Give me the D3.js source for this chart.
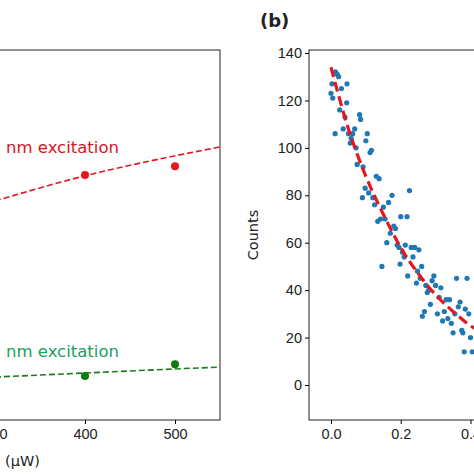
<!DOCTYPE html>
<html><head><meta charset="utf-8">
<script src="https://cdn.jsdelivr.net/npm/d3@7"></script>
<style>body{margin:0;background:#fff}svg{font-family:"DejaVu Sans",sans-serif}</style>
</head><body><svg id="c" width="474" height="474"></svg>
<script>
// --- panel (a) data (partially visible) ---
const powerTicks = [300, 400, 500];
const redPts = [[400, 66.2], [500, 68.6]];
const greenPts = [[400, 11.9], [500, 15.1]];
const redFit = [[300, 59.2], [400, 66.0], [500, 71.4], [550, 73.8]];
const greenFit = [[300, 11.6], [400, 12.7], [500, 13.8], [550, 14.3]];

// --- panel (b) data ---
const countTicks = [0, 20, 40, 60, 80, 100, 120, 140];
const timeTicks = [0.0, 0.2, 0.4];
const decayT = [0,0.003,0.005,0.012,0.013,0.018,0.022,0.025,0.03,0.035,0.04,0.045,0.046,0.05,0.055,0.058,0.062,0.068,0.072,0.075,0.082,0.085,0.09,0.092,0.098,0.1,0.104,0.108,0.112,0.116,0.12,0.125,0.13,0.134,0.138,0.142,0.146,0.15,0.155,0.16,0.165,0.17,0.175,0.18,0.185,0.19,0.195,0.198,0.2,0.205,0.21,0.213,0.218,0.22,0.225,0.23,0.235,0.24,0.245,0.248,0.252,0.256,0.26,0.262,0.268,0.272,0.276,0.28,0.285,0.29,0.295,0.3,0.305,0.31,0.315,0.32,0.325,0.33,0.335,0.34,0.345,0.35,0.355,0.36,0.365,0.37,0.375,0.378,0.382,0.385,0.39,0.395,0.4,0.405];
const decayCounts = [123,127,121,106,132,131,130,116,125,108,113,119,127,106,102,104,106,108,100,93,114,112,79,92,83,103,106,81,98,99,79,76,88,69,87,70,50,75,70,60,77,64,80,67,66,59,58,51,71,56,54,59,71,46,82,58,54,58,43,48,57,45,50,29,31,42,39,40,34,44,46,42,30,37,41,27,31,36,28,36,26,22,30,45,33,35,23,22,14,32,45,30,20,14];
const fitT = [0, 0.05, 0.1, 0.15, 0.2, 0.25, 0.3, 0.35, 0.4, 0.45];
const fitCounts = [134, 108, 88, 72, 58, 47, 38, 31, 25, 21];

const svg = d3.select("#c");
const dark = "#222";

// ---- panel (a) ----
const ax = d3.scaleLinear().domain([300, 550]).range([-5, 220]);
const ay = d3.scaleLinear().domain([0, 100]).range([420, 50]);
const ga = svg.append("g");
ga.append("rect").attr("x", -10).attr("y", 50).attr("width", 230).attr("height", 370)
  .attr("fill", "none").attr("stroke", dark).attr("stroke-width", 1);
ga.append("g").attr("transform", "translate(0,420)")
  .call(d3.axisBottom(ax).tickValues(powerTicks).tickSize(4).tickSizeOuter(0))
  .call(g => g.select(".domain").remove())
  .call(g => g.selectAll("text").attr("font-size", 14.5).attr("fill", dark).attr("dy", "0.85em"));
ga.append("text").attr("x", 5).attr("y", 466).attr("font-size", 14.5).attr("fill", dark).text("(\u03bcW)");
const line = d3.line().x(d => ax(d[0])).y(d => ay(d[1])).curve(d3.curveMonotoneX);
ga.append("path").attr("d", line(redFit)).attr("fill", "none").attr("stroke", "#e8141e")
  .attr("stroke-width", 1.6).attr("stroke-dasharray", "6,3");
ga.append("path").attr("d", line(greenFit)).attr("fill", "none").attr("stroke", "#1d7a1d")
  .attr("stroke-width", 1.6).attr("stroke-dasharray", "6,3");
ga.selectAll(".rp").data(redPts).join("circle").attr("cx", d => ax(d[0])).attr("cy", d => ay(d[1])).attr("r", 4).attr("fill", "#e8141e");
ga.selectAll(".gp").data(greenPts).join("circle").attr("cx", d => ax(d[0])).attr("cy", d => ay(d[1])).attr("r", 4).attr("fill", "#0f7a0f");
ga.append("text").attr("x", 6).attr("y", 153).attr("font-size", 16.5).attr("fill", "#d9141e").text("nm excitation");
ga.append("text").attr("x", 6).attr("y", 357).attr("font-size", 16.5).attr("fill", "#1aa060").text("nm excitation");

// ---- panel (b) ----
const bx = d3.scaleLinear().domain([-0.063, 0.41]).range([309, 474]);
const by = d3.scaleLinear().domain([0, 140]).range([385, 53]);
const gb = svg.append("g");
gb.append("rect").attr("x", 309).attr("y", 50).attr("width", 200).attr("height", 370)
  .attr("fill", "none").attr("stroke", dark).attr("stroke-width", 1);
gb.append("g").attr("transform", "translate(309,0)")
  .call(d3.axisLeft(by).tickValues(countTicks).tickSize(4).tickSizeOuter(0))
  .call(g => g.select(".domain").remove())
  .call(g => g.selectAll("text").attr("font-size", 14.5).attr("fill", dark));
gb.append("g").attr("transform", "translate(0,420)")
  .call(d3.axisBottom(bx).tickValues(timeTicks).tickFormat(d3.format(".1f")).tickSize(4).tickSizeOuter(0))
  .call(g => g.select(".domain").remove())
  .call(g => g.selectAll("text").attr("font-size", 14.5).attr("fill", dark).attr("dy", "0.85em"));
gb.append("text").attr("transform", "translate(258,235) rotate(-90)").attr("text-anchor", "middle")
  .attr("font-size", 14.5).attr("fill", dark).text("Counts");
gb.append("text").attr("x", 260).attr("y", 27).attr("font-size", 18).attr("font-weight", "bold")
  .attr("fill", dark).text("(b)");
gb.selectAll(".pt").data(decayT).join("circle")
  .attr("cx", d => bx(d)).attr("cy", (d, i) => by(decayCounts[i])).attr("r", 2.6).attr("fill", "#1f77b4");
const fitLine = d3.line().x((d, i) => bx(d)).y((d, i) => by(fitCounts[i])).curve(d3.curveMonotoneX);
gb.append("path").attr("d", fitLine(fitT)).attr("fill", "none").attr("stroke", "#e8141e")
  .attr("stroke-width", 3.2).attr("stroke-dasharray", "10,5");
</script></body></html>
